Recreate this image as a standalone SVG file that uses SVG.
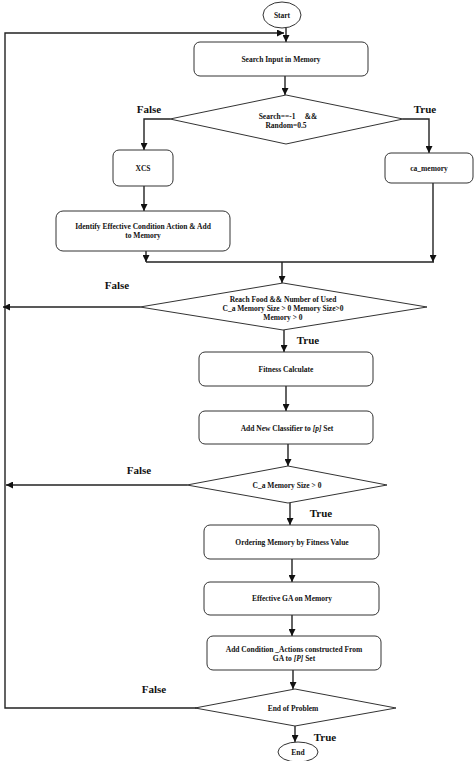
<svg xmlns="http://www.w3.org/2000/svg" width="474" height="761" viewBox="0 0 474 761">
<style>
.box{fill:#fff;stroke:#333;stroke-width:1}
.dia{fill:#fff;stroke:#333;stroke-width:1}
.t{font-family:"Liberation Serif","Times New Roman",serif;font-weight:bold;font-size:7.5px;fill:#111;text-anchor:middle}
.lb{font-family:"Liberation Serif","Times New Roman",serif;font-weight:bold;font-size:11px;fill:#111;text-anchor:middle}
.c{fill:none;stroke:#222;stroke-width:1.4}
</style>
<defs>
<marker id="ar" viewBox="0 0 10 10" refX="10" refY="5" markerWidth="7" markerHeight="7" markerUnits="userSpaceOnUse" orient="auto">
<path d="M0,0 L10,5 L0,10 z" fill="#111"/>
</marker>
</defs>
<rect width="474" height="761" fill="#fff"/>
<g id="connectors">
<line class="c" x1="286" y1="28" x2="286" y2="42" marker-end="url(#ar)"/>
<polyline class="c" points="295,708 5,708 5,33 284,33" marker-end="url(#ar)"/>
<line class="c" x1="285" y1="76" x2="285" y2="95" marker-end="url(#ar)"/>
<polyline class="c" points="170,119 144,119 144,150" marker-end="url(#ar)"/>
<polyline class="c" points="403,119 429,119 429,153" marker-end="url(#ar)"/>
<line class="c" x1="144" y1="186" x2="144" y2="211" marker-end="url(#ar)"/>
<line class="c" x1="146" y1="251" x2="146" y2="262" marker-end="url(#ar)"/>
<line class="c" x1="433" y1="183" x2="433" y2="262" marker-end="url(#ar)"/>
<line class="c" x1="146" y1="262" x2="434" y2="262"/>
<line class="c" x1="282" y1="262" x2="282" y2="283" marker-end="url(#ar)"/>
<line class="c" x1="140" y1="307" x2="3" y2="307" marker-end="url(#ar)"/>
<line class="c" x1="284" y1="330" x2="284" y2="352" marker-end="url(#ar)"/>
<line class="c" x1="286" y1="386" x2="286" y2="411" marker-end="url(#ar)"/>
<line class="c" x1="288" y1="444" x2="288" y2="466" marker-end="url(#ar)"/>
<line class="c" x1="187" y1="485" x2="6" y2="485" marker-end="url(#ar)"/>
<line class="c" x1="290" y1="503" x2="290" y2="525" marker-end="url(#ar)"/>
<line class="c" x1="292" y1="559" x2="292" y2="582" marker-end="url(#ar)"/>
<line class="c" x1="292" y1="615" x2="292" y2="636" marker-end="url(#ar)"/>
<line class="c" x1="293" y1="670" x2="293" y2="689" marker-end="url(#ar)"/>
<line class="c" x1="295" y1="726" x2="295" y2="742" marker-end="url(#ar)"/>
<text class="lb" x="149" y="113">False</text>
<text class="lb" x="425" y="113">True</text>
<text class="lb" x="117" y="289">False</text>
<text class="lb" x="308" y="344">True</text>
<text class="lb" x="139" y="474">False</text>
<text class="lb" x="321" y="517">True</text>
<text class="lb" x="154" y="693">False</text>
<text class="lb" x="325" y="741">True</text>
</g>
<g id="start">
<ellipse class="box" cx="282" cy="15" rx="19" ry="13"/>
<text class="t" x="282" y="18">Start</text>
</g>
<g id="search">
<rect class="box" x="194" y="42" width="174" height="34" rx="6"/>
<text class="t" x="281" y="62">Search Input in Memory</text>
</g>
<g id="cond1">
<polygon class="dia" points="286,95 403,119 286,144 170,119"/>
<text class="t" x="288" y="119" xml:space="preserve">Search==-1     &amp;&amp;</text>
<text class="t" x="286" y="128">Random=0.5</text>
</g>
<g id="xcs">
<rect class="box" x="113" y="150" width="60" height="36" rx="6"/>
<text class="t" x="143" y="171">XCS</text>
</g>
<g id="camemory">
<rect class="box" x="385" y="153" width="88" height="30" rx="6"/>
<text class="t" x="429" y="171">ca_memory</text>
</g>
<g id="identify">
<rect class="box" x="56" y="211" width="174" height="40" rx="7"/>
<text class="t" x="143" y="229">Identify Effective Condition Action &amp; Add</text>
<text class="t" x="143" y="238">to Memory</text>
</g>
<g id="cond2">
<polygon class="dia" points="283,283 427,307 283,330 140,307"/>
<text class="t" x="283" y="302">Reach Food &amp;&amp; Number of Used</text>
<text class="t" x="283" y="311">C_a Memory Size &gt; 0 Memory Size&gt;0</text>
<text class="t" x="283" y="320">Memory &gt; 0</text>
</g>
<g id="fitness">
<rect class="box" x="199" y="352" width="174" height="34" rx="6"/>
<text class="t" x="286" y="372">Fitness Calculate</text>
</g>
<g id="addnew">
<rect class="box" x="199" y="411" width="174" height="33" rx="6"/>
<text class="t" x="287" y="431">Add New Classifier to <tspan font-style="italic">[p]</tspan> Set</text>
</g>
<g id="cond3">
<polygon class="dia" points="288,466 387,485 288,503 187,485"/>
<text class="t" x="287" y="488">C_a Memory Size &gt; 0</text>
</g>
<g id="ordering">
<rect class="box" x="204" y="525" width="175" height="34" rx="6"/>
<text class="t" x="292" y="545">Ordering Memory by Fitness Value</text>
</g>
<g id="effga">
<rect class="box" x="204" y="582" width="175" height="33" rx="6"/>
<text class="t" x="292" y="601">Effective GA on Memory</text>
</g>
<g id="addcond">
<rect class="box" x="207" y="636" width="174" height="34" rx="6"/>
<text class="t" x="294" y="652">Add Condition _Actions constructed From</text>
<text class="t" x="294" y="661">GA to <tspan font-style="italic">[P]</tspan> Set</text>
</g>
<g id="cond4">
<polygon class="dia" points="295,689 396,708 295,726 195,708"/>
<text class="t" x="293" y="711">End of Problem</text>
</g>
<g id="end">
<ellipse class="box" cx="298" cy="752" rx="20" ry="10"/>
<text class="t" x="298" y="755">End</text>
</g>
</svg>
